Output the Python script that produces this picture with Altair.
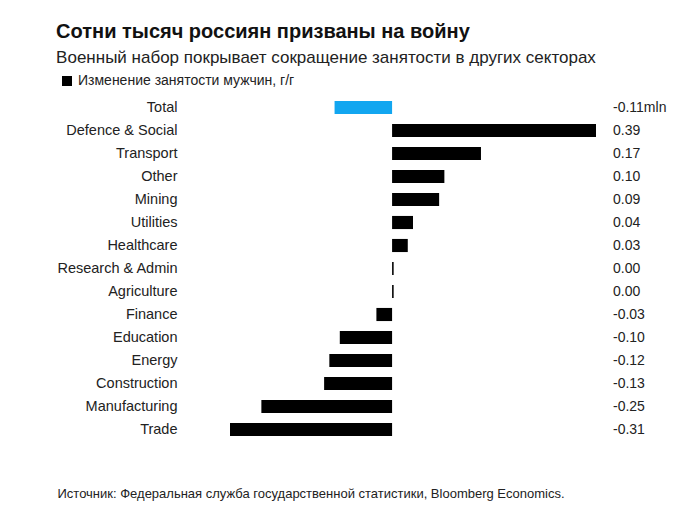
import altair as alt
import pandas as pd

categories = ["Total", "Defence & Social", "Transport", "Other", "Mining", "Utilities",
              "Healthcare", "Research & Admin", "Agriculture", "Finance", "Education",
              "Energy", "Construction", "Manufacturing", "Trade"]
values = [-0.11, 0.39, 0.17, 0.10, 0.09, 0.04, 0.03, 0.003, 0.003, -0.03, -0.10,
          -0.12, -0.13, -0.25, -0.31]
value_labels = ["-0.11mln", "0.39", "0.17", "0.10", "0.09", "0.04", "0.03", "0.00",
                "0.00", "-0.03", "-0.10", "-0.12", "-0.13", "-0.25", "-0.31"]

SERIES = "Изменение занятости мужчин, г/г"
series = ["Total" if c == "Total" else SERIES for c in categories]

df = pd.DataFrame({"category": categories, "value": values,
                   "label": value_labels, "series": series})

FONT = "Liberation Sans"

y_enc = alt.Y("category:N", sort=categories,
              scale=alt.Scale(paddingInner=0.43, paddingOuter=0.215),
              axis=alt.Axis(title=None, ticks=False, domain=False, labelFontSize=14.5,
                            labelColor="#222222", labelPadding=53, labelFont=FONT))

bars = alt.Chart(df).mark_bar().encode(
    x=alt.X("value:Q", scale=alt.Scale(domain=[-0.31, 0.39], nice=False, zero=False),
            axis=alt.Axis(labels=False, ticks=False, domain=False, grid=False,
                          title="Источник: Федеральная служба государственной статистики, Bloomberg Economics.",
                          titleX=-173, titleY=56, titleAlign="left", titleBaseline="alphabetic",
                          titleFontSize=13, titleFontWeight="normal", titleColor="#222222",
                          titleFont=FONT)),
    y=y_enc,
    color=alt.Color("series:N",
                    scale=alt.Scale(domain=[SERIES, "Total"], range=["#000000", "#12A6F0"]),
                    legend=alt.Legend(title=None, values=[SERIES], orient="none",
                                      legendX=-170, legendY=-22, symbolType="square",
                                      symbolSize=100, symbolStrokeWidth=0, labelFontSize=14,
                                      labelFont=FONT, labelColor="#222222", labelOffset=4,
                                      labelLimit=400)),
)

texts = alt.Chart(df).mark_text(align="left", baseline="middle", fontSize=14,
                                 font=FONT, color="#222222").encode(
    x=alt.value(383),
    y=alt.Y("category:N", sort=categories),
    text="label:N",
)

chart = alt.layer(bars, texts).properties(
    width=366, height=345,
    title=alt.TitleParams(
        text="Сотни тысяч россиян призваны на войну",
        subtitle="Военный набор покрывает сокращение занятости в других секторах",
        anchor="start", frame="bounds", font=FONT, fontSize=20, fontWeight="bold",
        color="#111111", subtitleFont=FONT, subtitleFontSize=17, subtitleColor="#222222",
        subtitlePadding=8, offset=8),
    padding={"left": 48, "top": 14, "right": 10, "bottom": 10},
).configure(background="white").configure_view(stroke="transparent", strokeWidth=0)

chart.save("out.html", embed_options={"renderer": "svg", "actions": False})
